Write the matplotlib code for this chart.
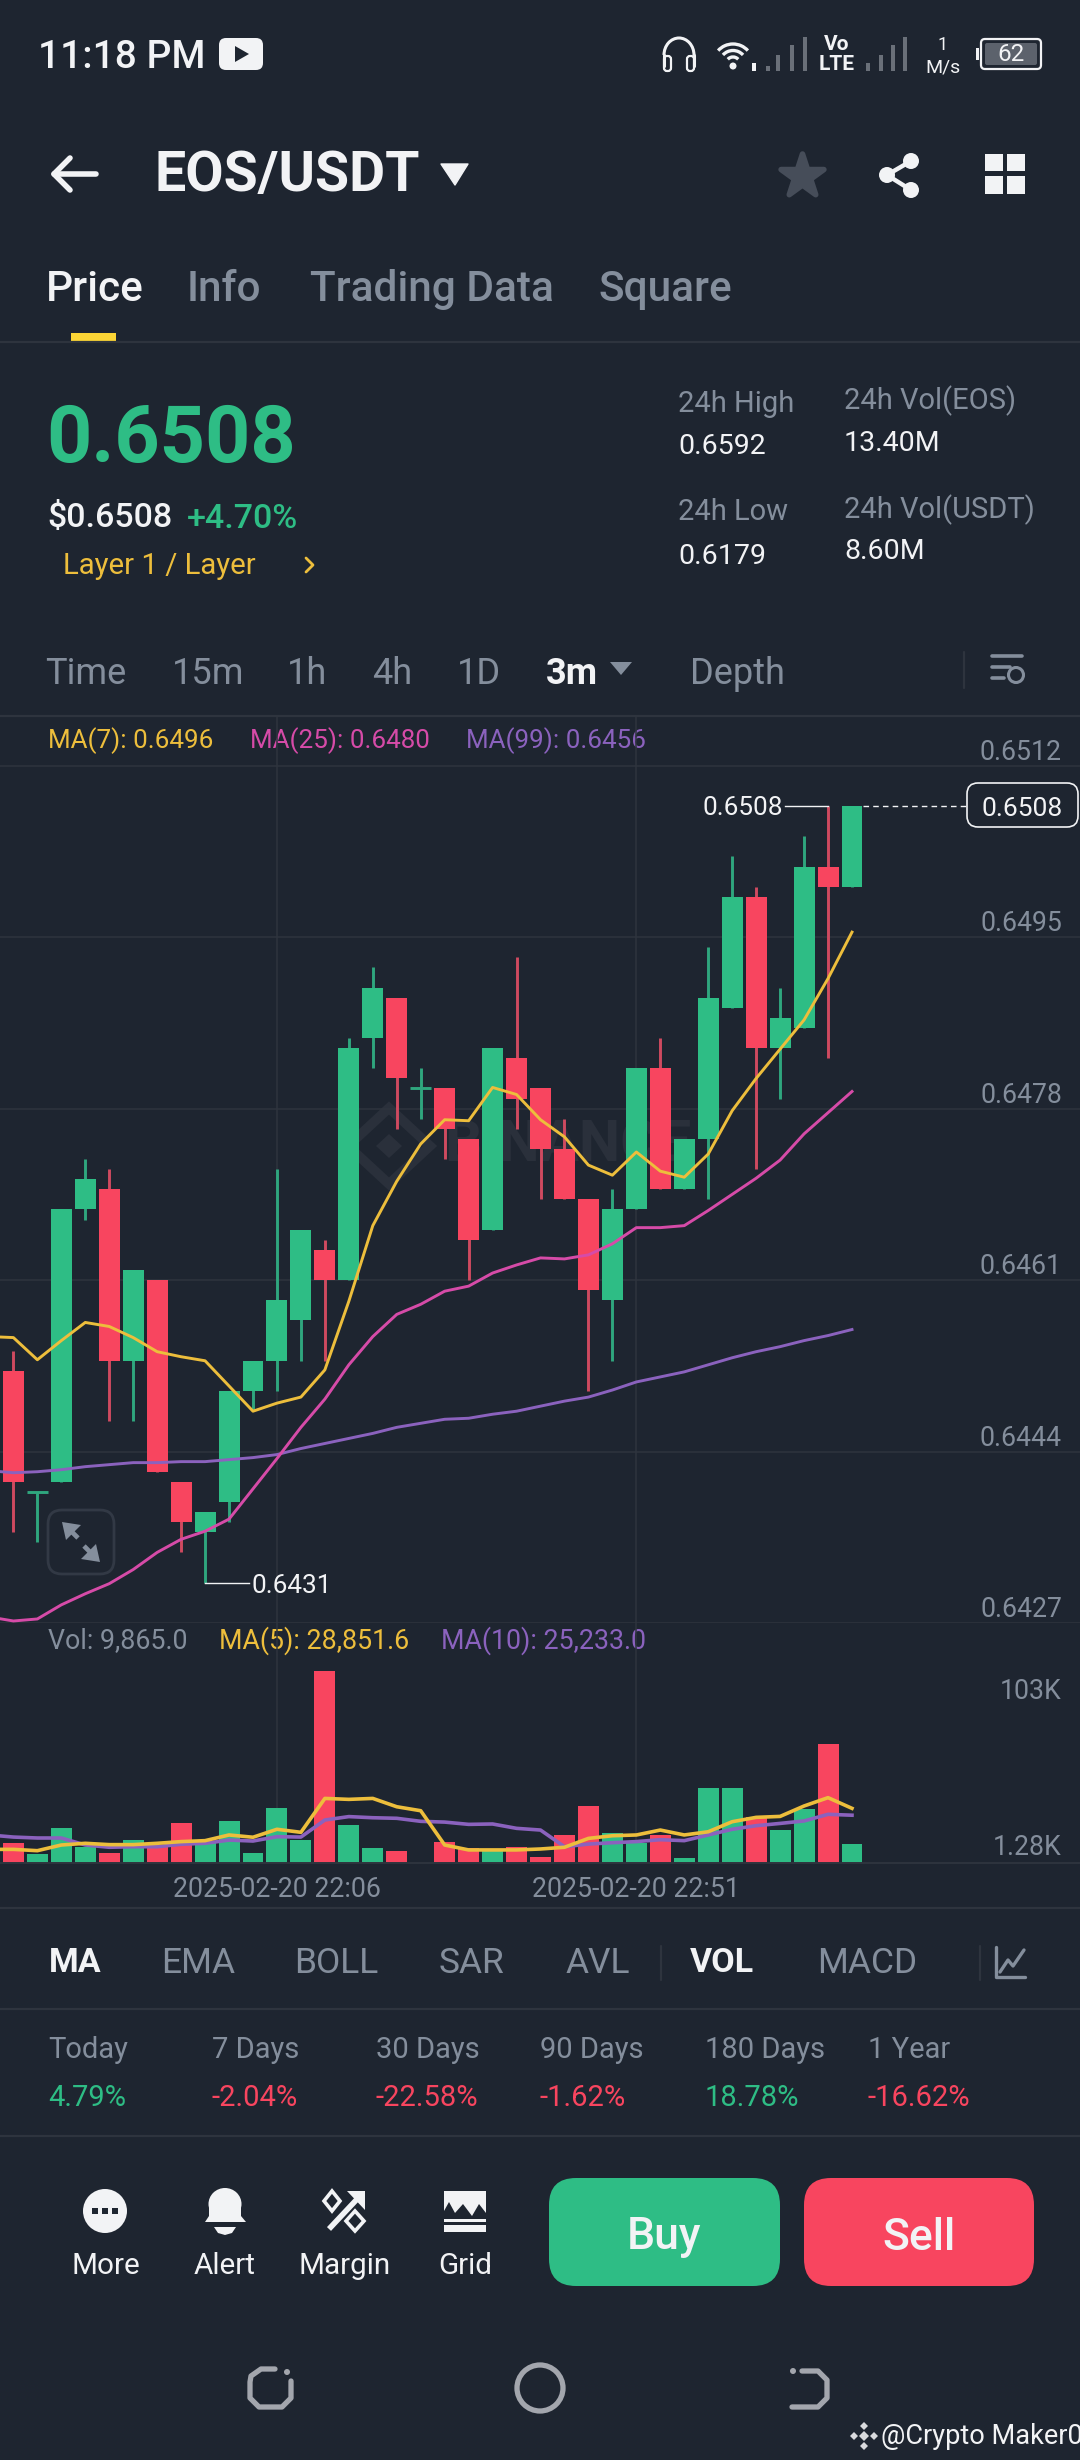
#!/usr/bin/env python3
import matplotlib
matplotlib.use('Agg')
import matplotlib.pyplot as plt
from matplotlib.patches import FancyBboxPatch, Arc, Circle, Polygon, Rectangle, Ellipse
from matplotlib.transforms import ScaledTranslation

plt.rcParams['font.family'] = ['Roboto', 'DejaVu Sans']

BG = '#1E2530'
LINE = '#2E343E'
GREY = '#848E9C'
WHITE = '#F2F3F5'
GREEN = '#2EBD85'
RED = '#F8455F'
GREEN_WICK = '#2FA67E'
RED_WICK = '#CF4A60'
YELLOW = '#EDBE3C'
PINK = '#D64BA8'
PURPLE = '#8B62BE'

# candles, 3m EOS/USDT
opens = [0.6452, 0.6440, 0.6441, 0.6468, 0.6470, 0.6453, 0.6461, 0.6441, 0.6436, 0.6439, 0.6450, 0.6453,
         0.6457, 0.6464, 0.6461, 0.6485, 0.6489, 0.6480, 0.6480, 0.6475, 0.6466, 0.6483, 0.6480, 0.6474,
         0.6469, 0.6459, 0.6468, 0.6482, 0.6470, 0.6475, 0.6488, 0.6499, 0.6484, 0.6486, 0.6502, 0.6500]
closes = [0.6441, 0.6440, 0.6468, 0.6471, 0.6453, 0.6462, 0.6442, 0.6437, 0.6438, 0.6450, 0.6453, 0.6459,
          0.6466, 0.6461, 0.6484, 0.6490, 0.6481, 0.6480, 0.6476, 0.6465, 0.6484, 0.6479, 0.6474, 0.6469,
          0.6460, 0.6468, 0.6482, 0.6470, 0.6475, 0.6489, 0.6499, 0.6484, 0.6487, 0.6502, 0.6500, 0.6508]
highs = [0.6454, 0.6440, 0.6468, 0.6473, 0.6472, 0.6462, 0.6461, 0.6441, 0.6438, 0.6450, 0.6453, 0.6472,
         0.6466, 0.6465, 0.6485, 0.6492, 0.6489, 0.6482, 0.6480, 0.6475, 0.6484, 0.6493, 0.6480, 0.6477,
         0.6469, 0.6470, 0.6482, 0.6485, 0.6475, 0.6494, 0.6503, 0.6500, 0.6490, 0.6505, 0.6508, 0.6508]
lows = [0.6436, 0.6435, 0.6441, 0.6467, 0.6447, 0.6447, 0.6442, 0.6434, 0.6431, 0.6437, 0.6448, 0.6450,
        0.6453, 0.6453, 0.6461, 0.6482, 0.6476, 0.6477, 0.6473, 0.6461, 0.6466, 0.6476, 0.6469, 0.6469,
        0.6450, 0.6453, 0.6468, 0.6470, 0.6470, 0.6469, 0.6488, 0.6472, 0.6479, 0.6486, 0.6483, 0.6500]

# moving averages start one candle left of the first visible one
ma7 = [0.64554, 0.64553, 0.64531, 0.64550, 0.64568, 0.64564, 0.64553, 0.64539, 0.64534, 0.64530, 0.64505,
       0.64480, 0.64488, 0.64494, 0.64521, 0.64589, 0.64664, 0.64708, 0.64745, 0.64769, 0.64768, 0.64801,
       0.64794, 0.64769, 0.64752, 0.64724, 0.64714, 0.64737, 0.64718, 0.64712, 0.64735, 0.64778, 0.64810,
       0.64839, 0.64868, 0.64909, 0.64955]
ma25 = [0.64276, 0.64272, 0.64274, 0.64288, 0.64299, 0.64309, 0.64323, 0.64340, 0.64353, 0.64361, 0.64373,
        0.64403, 0.64433, 0.64464, 0.64492, 0.64526, 0.64554, 0.64576, 0.64586, 0.64599, 0.64604, 0.64617,
        0.64625, 0.64632, 0.64631, 0.64635, 0.64646, 0.64662, 0.64662, 0.64664, 0.64679, 0.64695, 0.64711,
        0.64729, 0.64755, 0.64776, 0.64797]
ma99 = [0.64421, 0.64419, 0.64420, 0.64422, 0.64425, 0.64427, 0.64429, 0.64429, 0.64430, 0.64430, 0.64432,
        0.64434, 0.64437, 0.64443, 0.64448, 0.64453, 0.64458, 0.64464, 0.64468, 0.64472, 0.64473, 0.64477,
        0.64480, 0.64485, 0.64490, 0.64494, 0.64501, 0.64509, 0.64514, 0.64519, 0.64526, 0.64533, 0.64539,
        0.64544, 0.64550, 0.64555, 0.64561]

volumes = [10700, 4600, 18300, 8300, 5100, 12100, 8600, 20900, 10700, 22000, 5500, 29200,
           12300, 101600, 19900, 7900, 6300, 200, 10900, 7900, 6900, 8300, 3300, 14800,
           30100, 15700, 10400, 14800, 2600, 39800, 39400, 24100, 17600, 28700, 62700, 9865]
vol_ma5 = [7200, 7200, 6500, 9500, 10400, 9700, 9700, 10400, 11300, 11800, 14800, 13600, 17800, 16200,
           34100, 33600, 34100, 29700, 27600, 9500, 6900, 6900, 6900, 7400, 8300, 13000, 14400, 14800,
           17400, 14800, 16500, 21800, 24100, 24600, 30100, 34500, 28852]
vol_ma10 = [14800, 13700, 13200, 13200, 9500, 8300, 8600, 8600, 9900, 10400, 12100, 11600, 13900, 13700,
            22700, 24500, 23900, 23600, 22000, 21600, 20400, 20600, 18300, 17400, 8600, 10000, 10700,
            11300, 12300, 11800, 14800, 17800, 19700, 20900, 22200, 25700, 25233]

price_ticks = [0.6512, 0.6495, 0.6478, 0.6461, 0.6444, 0.6427]
vol_ticks = [1280, 103000]
vol_tick_labels = ['1.28K', '103K']
date_idx = [11, 26]
date_labels = ['2025-02-20 22:06', '2025-02-20 22:51']

tabs = ['Price', 'Info', 'Trading Data', 'Square']
tab_x = [46, 187, 310, 598]
intervals = ['Time', '15m', '1h', '4h', '1D', '3m', 'Depth']
interval_x = [45, 172, 287, 372, 457, 546, 690]
indicators = ['MA', 'EMA', 'BOLL', 'SAR', 'AVL', 'VOL', 'MACD']
indicator_x = [49, 161, 294, 439, 566, 690, 817]
periods = ['Today', '7 Days', '30 Days', '90 Days', '180 Days', '1 Year']
period_vals = ['4.79%', '-2.04%', '-22.58%', '-1.62%', '18.78%', '-16.62%']
period_x = [48, 212, 376, 540, 705, 868]

W, H = 1080, 2460
fig = plt.figure(figsize=(W / 100, H / 100), dpi=100, facecolor=BG)


def band(top, bottom):
    return [0, 1 - bottom / H, 1, (bottom - top) / H]


ui = fig.add_axes([0, 0, 1, 1], facecolor=BG)
ui.set_xlim(0, W)
ui.set_ylim(H, 0)
ui.axis('off')


def text(x, y, s, size, color=WHITE, ha='left', weight='normal'):
    # matplotlib centres on the box with descent, so nudge down a bit
    ui.text(x, y + 2.5, s, fontsize=size, color=color, ha=ha, va='center', fontweight=weight)


def rbox(x0, y0, x1, y1, r, **kw):
    p = FancyBboxPatch((x0 + r, y0 + r), x1 - x0 - 2 * r, y1 - y0 - 2 * r,
                       boxstyle=f'round,pad={r},rounding_size={r}', **kw)
    ui.add_patch(p)


def hline(y, x0=0, x1=W, color=LINE, lw=1.6):
    ui.plot([x0, x1], [y, y], color=color, lw=lw, solid_capstyle='butt')


def seg(xs, ys, color=WHITE, lw=3, cap='round'):
    ui.plot(xs, ys, color=color, lw=lw, solid_capstyle=cap, solid_joinstyle='round')


# status bar
text(38, 55, '11:18 PM', 28, weight='medium')
rbox(219, 38, 263, 70, 7, fc=WHITE, ec='none')
ui.add_patch(Polygon([[235, 46], [235, 62], [249, 54]], fc=BG, ec='none'))
ui.add_patch(Arc((679, 55), 30, 34, theta1=180, theta2=360, color=WHITE, lw=2.2))
seg([664, 664], [55, 66], lw=2.2)
seg([694, 694], [55, 66], lw=2.2)
rbox(664, 56, 671, 71, 3, fc='none', ec=WHITE, lw=1.6)
rbox(687, 56, 694, 71, 3, fc='none', ec=WHITE, lw=1.6)
for d in (14, 27, 40):
    ui.add_patch(Arc((733, 64), d, d, theta1=222, theta2=318, color=WHITE, lw=2.4))
ui.add_patch(Circle((733, 66), 3.5, fc=WHITE, ec='none'))
for x, h in ((752, 8), (766, 5), (776, 16), (790, 26), (803, 34)):
    ui.add_patch(Rectangle((x, 71 - h), 4, h, fc='#6A7079' if x > 760 else WHITE, ec='none'))
text(837, 42, 'Vo', 15, ha='center', weight='bold')
text(837, 62, 'LTE', 15, ha='center', weight='bold')
for x, h in ((868, 8), (881, 16), (893, 26), (905, 34)):
    ui.add_patch(Rectangle((x - 2, 71 - h), 4, h, fc='#6A7079', ec='none'))
text(943, 42, '1', 13, ha='center')
text(943, 65, 'M/s', 14, ha='center')
rbox(981, 39, 1041, 69, 4, fc='none', ec=WHITE, lw=1.6)
rbox(985, 43, 1037, 65, 2, fc='#5C626C', ec='none')
ui.add_patch(Rectangle((976, 48), 3, 12, fc=WHITE, ec='none'))
text(1011, 52, '62', 17.5, ha='center')

# title row
seg([54, 96], [174, 174], lw=4)
seg([70, 54, 70], [158, 174, 190], lw=4)
text(155, 174, 'EOS/USDT', 40, weight='bold')
ui.add_patch(Polygon([[441, 164], [468, 164], [455, 185]], fc=WHITE, ec=WHITE, lw=1, joinstyle='round'))
ui.scatter([802], [176], marker='*', s=1050, color='#464D59', edgecolors='#464D59', linewidths=4)
seg([911, 887, 911], [161, 175, 190], lw=3.2)
for cx, cy in ((911, 161), (887, 175), (911, 190)):
    ui.add_patch(Circle((cx, cy), 8, fc=WHITE, ec='none'))
for x0, y0, hh in ((985, 154, 17), (1007, 154, 17), (985, 176, 18), (1007, 176, 18)):
    ui.add_patch(Rectangle((x0, y0), 18, hh, fc=WHITE, ec='none'))

# tabs
for i, (label, x) in enumerate(zip(tabs, tab_x)):
    text(x, 287, label, 30.5, WHITE if i == 0 else GREY, weight='medium')
hline(342)
ui.add_patch(Rectangle((71, 333), 45, 9, fc='#FCD535', ec='none'))

# price block
text(46, 438, '0.6508', 57, GREEN, weight='bold')
text(47, 516, '$0.6508', 24.5, weight='medium')
text(187, 516, '+4.70%', 24.5, GREEN, weight='medium')
text(63, 563, 'Layer 1 / Layer', 21.2, YELLOW)
seg([306, 313, 306], [558, 565, 572], YELLOW, lw=2)
text(678, 401, '24h High', 21, GREY)
text(678, 444, '0.6592', 20.5)
text(678, 510, '24h Low', 21, GREY)
text(678, 554, '0.6179', 20.5)
text(844, 398, '24h Vol(EOS)', 21, GREY)
text(844, 441, '13.40M', 20.5)
text(844, 507, '24h Vol(USDT)', 21, GREY)
text(844, 549, '8.60M', 20.5)

# interval row
for label, x in zip(intervals, interval_x):
    active = label == '3m'
    text(x, 671, label, 26, WHITE if active else GREY, weight='bold' if active else 'normal')
ui.add_patch(Polygon([[610, 662], [632, 662], [621, 675]], fc=GREY, ec='none'))
seg([964, 964], [652, 688], LINE, lw=1.6)
seg([992, 1022], [656, 656], GREY, lw=2.6)
seg([992, 1010], [667, 667], GREY, lw=2.6)
seg([992, 1004], [678, 678], GREY, lw=2.6)
ui.add_patch(Circle((1016, 675), 7.5, fc='none', ec=GREY, lw=2.2))
hline(716)

# chart legends
text(48, 738, 'MA(7): 0.6496', 18.7, YELLOW)
text(250, 738, 'MA(25): 0.6480', 18.7, PINK)
text(466, 738, 'MA(99): 0.6456', 18.7, PURPLE)
text(48, 1638, 'Vol: 9,865.0', 19.3, GREY)
text(219, 1638, 'MA(5): 28,851.6', 19.3, YELLOW)
text(441, 1638, 'MA(10): 25,233.0', 19.3, PURPLE)

# watermark behind the candles
ui.add_patch(Polygon([[389, 1108], [430, 1146], [389, 1184], [348, 1146]], fc='none', ec='#2A303B', lw=7))
ui.add_patch(Polygon([[389, 1134], [402, 1146], [389, 1158], [376, 1146]], fc='#2A303B', ec='none'))
text(444, 1144, 'BINANCE', 42, '#2A303B', weight='bold')

# price chart
x = list(range(len(opens)))
xl = [i - 1 for i in range(len(ma7))]
ax = fig.add_axes(band(716, 1623), facecolor='none')
ax.set_xlim(-0.559, 44.516)
ax.set_ylim(0.6427, 0.651693)
for s in ax.spines.values():
    s.set_visible(False)
ax.grid(True, color=LINE, lw=1.1)
ax.set_axisbelow(True)
ax.set_xticks(date_idx)
ax.set_yticks(price_ticks)
ax.set_yticklabels([f'{p:.4f}' for p in price_ticks])
ax.tick_params(axis='x', length=0, labelbottom=False)
ax.tick_params(axis='y', length=0, labelleft=False, labelright=True, pad=-13, labelsize=19.2, labelcolor=GREY)
for lab in ax.get_yticklabels():
    lab.set_verticalalignment('bottom')
    lab.set_horizontalalignment('right')

up = [c >= o for o, c in zip(opens, closes)]
ax.vlines(x, lows, highs, colors=[GREEN_WICK if u else RED_WICK for u in up], lw=2.1, zorder=2)
ax.bar(x, [abs(c - o) for o, c in zip(opens, closes)], bottom=[min(o, c) for o, c in zip(opens, closes)],
       width=0.875, color=[GREEN if u else RED for u in up], zorder=3)
for i in x:
    if opens[i] == closes[i]:
        ax.hlines(opens[i], i - 0.4375, i + 0.4375, color=GREEN_WICK, lw=2.1, zorder=3)
ax.plot(xl, ma99, color=PURPLE, lw=2.1, zorder=4)
ax.plot(xl, ma25, color=PINK, lw=2.1, zorder=4)
ax.plot(xl, ma7, color=YELLOW, lw=2.1, zorder=5)

ax.plot([34, 32.2], [0.6508, 0.6508], color=WHITE, lw=1, zorder=4)
ax.text(32.1, 0.65078, '0.6508', fontsize=18.8, color=WHITE, ha='right', va='center')
ax.plot([8, 9.85], [0.6431, 0.6431], color=WHITE, lw=1, zorder=4)
ax.text(9.95, 0.64307, '0.6431', fontsize=18.8, color=WHITE, ha='left', va='center')
ax.plot([35.45, 39.8], [0.6508, 0.6508], color=WHITE, lw=1, ls=(0, (4, 3)))

# last price tag
rbox(967, 783, 1078, 827, 11, fc=BG, ec=WHITE, lw=1.2)
text(1022, 807, '0.6508', 19, ha='center')

# expand button
rbox(48, 1510, 114, 1574, 14, fc='none', ec='#323945', lw=2)
ui.add_patch(Polygon([[62, 1522], [81, 1525], [66, 1540]], fc=GREY, ec='none'))
ui.add_patch(Polygon([[100, 1562], [81, 1559], [96, 1544]], fc=GREY, ec='none'))
seg([70, 78], [1530, 1538], GREY, lw=3.4, cap='butt')
seg([84, 92], [1546, 1554], GREY, lw=3.4, cap='butt')

# volume chart
vax = fig.add_axes(band(1623, 1863), facecolor='none')
vax.set_xlim(-0.559, 44.516)
vax.set_ylim(0, 126720)
for name, s in vax.spines.items():
    s.set_visible(name == 'bottom')
    s.set_color(LINE)
    s.set_linewidth(1.4)
vax.set_xticks(date_idx)
vax.set_xticklabels(date_labels)
vax.grid(True, axis='x', color=LINE, lw=1.1)
vax.set_axisbelow(True)
vax.tick_params(axis='x', length=0, pad=9.5, labelsize=19.2, labelcolor=GREY)
vax.set_yticks(vol_ticks)
vax.set_yticklabels(vol_tick_labels)
vax.tick_params(axis='y', length=0, labelleft=False, labelright=True, pad=-13, labelsize=19.2, labelcolor=GREY)
labs = vax.get_yticklabels()
for lab in labs:
    lab.set_horizontalalignment('right')
labs[0].set_verticalalignment('bottom')
labs[1].set_verticalalignment('top')
labs[1].set_transform(labs[1].get_transform() + ScaledTranslation(0, -0.10, fig.dpi_scale_trans))
vax.bar(x, volumes, width=0.875, color=[GREEN if u else RED for u in up], zorder=2)
vax.plot(xl, vol_ma10, color=PURPLE, lw=2.6, zorder=3)
vax.plot(xl, vol_ma5, color=YELLOW, lw=2.6, zorder=4)

hline(1908)

# indicator row
for label, xp in zip(indicators, indicator_x):
    active = label in ('MA', 'VOL')
    text(xp, 1961, label, 25.5 if not active else 24.5, WHITE if active else GREY, weight='bold' if active else 'normal')
seg([661, 661], [1946, 1980], LINE, lw=1.6)
seg([980, 980], [1946, 1980], LINE, lw=1.6)
seg([996, 996, 1025], [1947, 1977, 1977], GREY, lw=2.4)
seg([1000, 1008, 1013, 1024], [1972, 1960, 1966, 1950], GREY, lw=2.4)
hline(2009)

# change over period
for label, val, xp in zip(periods, period_vals, period_x):
    text(xp, 2048, label, 21, GREY)
    text(xp, 2095, val, 21, RED if val.startswith('-') else GREEN)
hline(2136)

# bottom bar
ui.add_patch(Circle((105, 2211), 22, fc=WHITE, ec='none'))
for cx in (95, 105, 115):
    ui.add_patch(Rectangle((cx - 3, 2208), 6, 6, fc=BG, ec='none'))
ui.add_patch(Ellipse((225, 2204), 33, 32, fc=WHITE, ec='none'))
ui.add_patch(Polygon([[209, 2204], [241, 2204], [241, 2216], [246, 2222], [205, 2222], [209, 2216]], fc=WHITE, ec='none'))
ui.add_patch(Polygon([[214, 2227], [236, 2227], [232, 2233], [225, 2235], [218, 2233]], fc=WHITE, ec='none'))
seg([329, 360], [2229, 2196], lw=4, cap='butt')
ui.add_patch(Polygon([[347, 2191], [365, 2191], [365, 2210]], fc=WHITE, ec='none'))
ui.add_patch(Polygon([[332, 2191], [340, 2201], [332, 2211], [324, 2201]], fc='none', ec=WHITE, lw=2.6))
ui.add_patch(Polygon([[355, 2211], [364, 2221], [355, 2231], [346, 2221]], fc='none', ec=WHITE, lw=2.6))
ui.add_patch(Polygon([[444, 2191], [486, 2191], [486, 2213], [479, 2204], [472, 2216], [463, 2204], [455, 2213], [449, 2202], [444, 2211]], fc=WHITE, ec='none'))
ui.add_patch(Rectangle((444, 2219), 42, 3, fc=WHITE, ec='none'))
ui.add_patch(Rectangle((444, 2225), 42, 7, fc=WHITE, ec='none'))
for label, xp in zip(['More', 'Alert', 'Margin', 'Grid'], [106, 225, 345, 465]):
    text(xp, 2264, label, 21.3, ha='center')

rbox(549, 2178, 780, 2286, 27, fc=GREEN, ec='none')
rbox(804, 2178, 1034, 2286, 27, fc=RED, ec='none')
text(664, 2235, 'Buy', 32, ha='center', weight='medium')
text(919, 2235, 'Sell', 32, ha='center', weight='medium')

# system nav
NAV = '#A3A6AD'
seg([275, 261, 251, 250, 250, 259, 282, 291, 291], [2369, 2369, 2376, 2382, 2398, 2407, 2407, 2398, 2381], NAV, lw=3.8)
ui.add_patch(Circle((287, 2372), 3, fc=NAV, ec='none'))
ui.add_patch(Circle((540, 2388), 23, fc='none', ec=NAV, lw=3.8))
seg([802, 818, 827, 827, 818, 792], [2371, 2371, 2380, 2398, 2407, 2407], NAV, lw=3.8)
ui.add_patch(Circle((793, 2371), 3, fc=NAV, ec='none'))

# watermark
for cx, cy, r in ((864, 2426, 4), (864, 2446, 4), (854, 2436, 4), (874, 2436, 4), (864, 2436, 5)):
    ui.add_patch(Polygon([[cx, cy - r], [cx + r, cy], [cx, cy + r], [cx - r, cy]], fc='#D9DADD', ec='none'))
text(881, 2434, '@Crypto Maker0', 19.5, ha='left')

fig.savefig('out.png', dpi=100, facecolor=BG)
